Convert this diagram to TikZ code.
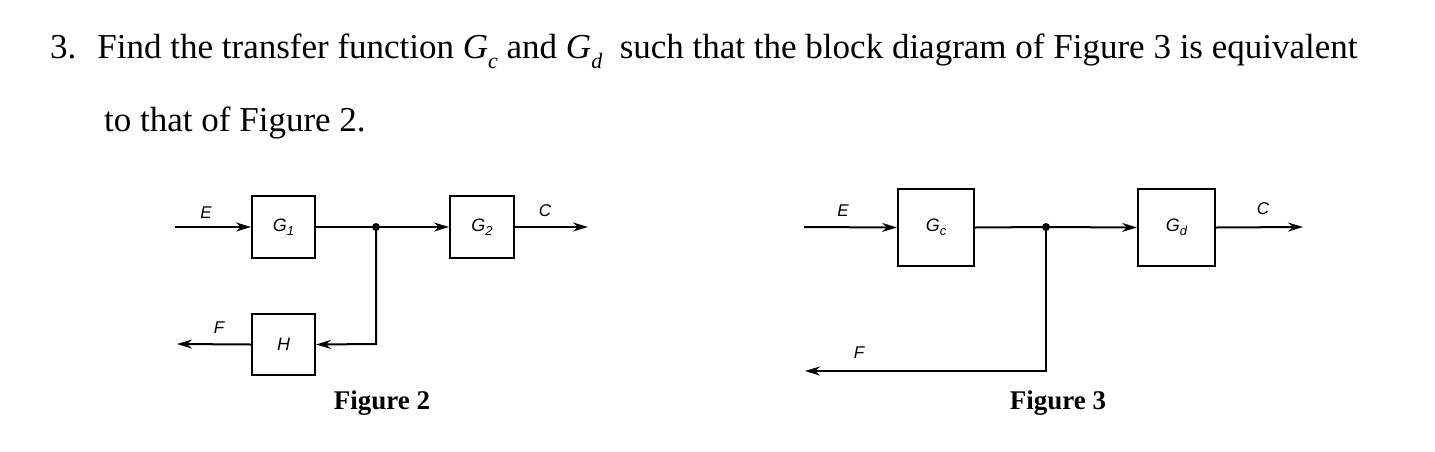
\documentclass[tikz,border=0pt]{standalone}
\usepackage{fontspec}
\setmainfont{Liberation Serif}
\setsansfont{Liberation Sans}
\usetikzlibrary{arrows.meta}
\newcommand{\blksub}[1]{\raisebox{-0.25em}{\fontsize{13}{15}\selectfont #1}}
\newcommand{\ttlsub}[1]{\raisebox{-0.3em}{\fontsize{22}{24}\selectfont\textit{#1}}}
\begin{document}
\begin{tikzpicture}[x=1pt,y=-1pt,
  blk/.style={draw,line width=2pt,inner sep=0pt,font=\sffamily\itshape\fontsize{18}{20}\selectfont},
  wire/.style={line width=2pt},
  arr/.style={wire,-{Stealth[length=15pt,width=9pt]}},
  lbl/.style={font=\sffamily\itshape\fontsize{17}{19}\selectfont},
  figcap/.style={font=\bfseries\fontsize{27}{30}\selectfont},
  title/.style={anchor=base west,inner sep=0pt,font=\fontsize{35}{40}\selectfont}]
\useasboundingbox (0,0) rectangle (1435,451);
\node[title] (t1) at (50,58) {3.\hspace{0.6em}Find the transfer function \textit{G}\ttlsub{c}\ and \textit{G}\ttlsub{d}\ \ such that the block diagram of Figure 3 is equivalent};
\node[title] (t2) at (104,131) {to that of Figure 2.};
% Figure 2
\node[blk,minimum width=63pt,minimum height=62pt] (g1) at (283.5,227) {G\blksub{1}};
\node[blk,minimum width=64pt,minimum height=62pt] (g2) at (482,227) {G\blksub{2}};
\node[blk,minimum width=63pt,minimum height=61pt] (h) at (283.5,344.5) {H};
\coordinate (e2) at (175,227);
\coordinate (j2) at (376,227);
\coordinate (c2) at (588,227);
\coordinate (k2) at (376,344);
\coordinate (f2) at (177,344);
\draw[arr] (e2) -- (g1.west);
\draw[wire] (g1.east) -- (j2);
\draw[arr] (j2) -- (g2.west);
\draw[arr] (g2.east) -- (c2);
\draw[arr] (j2) -- (k2) -- (h.east);
\draw[arr] (h.west) -- (f2);
\fill (j2) circle (4pt);
\node[lbl] (le2) at (206,213) {E};
\node[lbl] (lc2) at (545,211) {C};
\node[lbl] (lf2) at (219,328) {F};
\node[figcap] (cap2) at (382,403) {Figure 2};
% Figure 3
\node[blk,minimum width=76pt,minimum height=77pt] (gc) at (936,227.5) {G\blksub{c}};
\node[blk,minimum width=77pt,minimum height=77pt] (gd) at (1176.5,227.5) {G\blksub{d}};
\coordinate (e3) at (804,227);
\coordinate (j3) at (1046,227);
\coordinate (c3) at (1303,227);
\coordinate (k3) at (1046,371);
\coordinate (f3) at (805,371);
\draw[arr] (e3) -- (gc.west);
\draw[wire] (gc.east) -- (j3);
\draw[arr] (j3) -- (gd.west);
\draw[arr] (gd.east) -- (c3);
\draw[arr] (j3) -- (k3) -- (f3);
\fill (j3) circle (4pt);
\node[lbl] (le3) at (843,211) {E};
\node[lbl] (lc3) at (1263,209) {C};
\node[lbl] (lf3) at (859,353) {F};
\node[figcap] (cap3) at (1058,403) {Figure 3};
\end{tikzpicture}
\end{document}
